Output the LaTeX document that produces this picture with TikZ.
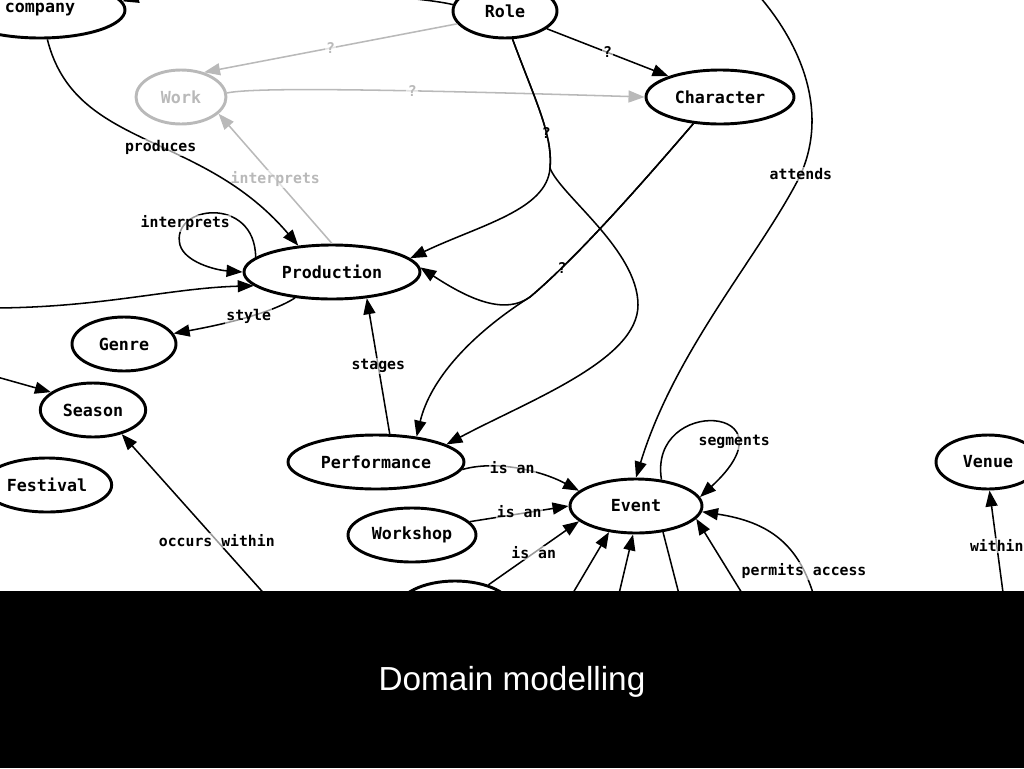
\documentclass[tikz,border=0pt]{standalone}
\usepackage{fontspec}
\setmainfont{DejaVu Sans Mono}
\setmonofont{DejaVu Sans Mono}
\newfontfamily\titlefont{Liberation Sans}
\usetikzlibrary{shapes.geometric,arrows.meta}
\definecolor{lgray}{RGB}{185,185,185}
\begin{document}
\begin{tikzpicture}[x=0.75pt,y=-0.75pt,
 ent/.style={ellipse, draw=black, line width=2.2pt, inner sep=0pt, minimum height=40.5pt, font=\fontsize{12.5}{14}\ttfamily\bfseries},
 gent/.style={ent, draw=lgray, text=lgray},
 edge/.style={draw=black, line width=1.15pt, -{Triangle[length=12pt,width=9pt]}},
 plainedge/.style={draw=black, line width=1.15pt},
 gedge/.style={draw=lgray, line width=1.15pt, -{Triangle[length=12pt,width=9pt,fill=lgray]}},
 lbl/.style={font=\fontsize{11.1}{13}\ttfamily\bfseries, fill=white, fill opacity=0.6, text opacity=1, inner sep=1pt},
 glbl/.style={lbl, text=lgray}]
\useasboundingbox (0,0) rectangle (1024,768);
\begin{scope}
\clip (0,0) rectangle (1024,768);
% entities
\node[ent, minimum width=127.5pt, minimum height=42pt] (company) at (40,10) {company};
\node[ent, minimum width=78pt] (Role) at (505,11) {Role};
\node[gent, minimum width=67.5pt] (Work) at (181,97) {Work};
\node[ent, minimum width=111pt] (Character) at (720,97) {Character};
\node[ent, minimum width=132pt] (Production) at (332,272) {Production};
\node[ent, minimum width=78pt] (Genre) at (124,344) {Genre};
\node[ent, minimum width=79pt] (Season) at (93,410) {Season};
\node[ent, minimum width=97pt] (Festival) at (47,485) {Festival};
\node[ent, minimum width=132pt] (Performance) at (376,462) {Performance};
\node[ent, minimum width=96pt] (Workshop) at (412,535) {Workshop};
\node[ent, minimum width=99pt] (Event) at (636,506) {Event};
\node[ent, minimum width=78pt] (Venue) at (988,462) {Venue};
\node[ent, minimum width=87pt, minimum height=43.5pt] (bottom) at (455,610) {};
% free ends
\coordinate (attsrc) at (752,-12);
\coordinate (lsrc1) at (-10,308);
\coordinate (lsrc2) at (-10,375);
\coordinate (b1) at (570,598);
\coordinate (b2) at (618,598);
\coordinate (b3) at (680,598);
\coordinate (b4) at (745,598);
\coordinate (b5) at (1004,600);
\coordinate (b6) at (268,598);
\coordinate (b7) at (815,600);
% grey edges
\draw[gedge] (Role.195) -- node[glbl] (q1) {?} (Work.47);
\draw[gedge] (Work.5) .. controls (250,88) and (350,88) .. node[glbl,pos=0.67] (q2) {?} (Character.west);
\draw[gedge] (Production.north) -- node[glbl] (l1) {interprets} (Work.-24);
% black edges
\draw[edge] (Role.173) .. controls (400,-8) and (180,-15) .. (company.6);
\draw[edge] (company) .. controls (75,150) and (200,130) .. node[lbl,pos=0.55] (l2) {produces} (Production.142);
\draw[edge] (Role.-23) -- node[lbl] (q3) {?} (Character.158);
\draw[edge] (Role.-75) .. controls (535,100) and (553,135) .. node[lbl,pos=0.66] (q4) {?} (550,168) .. controls (547,210) and (480,225) .. (Production.10);
\draw[edge] (Role.-75) .. controls (535,100) and (553,135) .. (550,168) .. controls (560,195) and (638,250) .. (638,305) .. controls (638,360) and (530,400) .. (Performance.14);
\draw[edge] (Character.225) .. controls (650,174) and (580,255) .. node[lbl,pos=0.8] (q5) {?} (530,297) .. controls (505,315) and (470,300) .. (Production.3);
\draw[edge] (Character.225) .. controls (650,174) and (580,255) .. (530,297) .. controls (470,335) and (430,380) .. (Performance.32);
\draw[edge] (attsrc) .. controls (800,40) and (830,110) .. node[lbl,pos=0.99] (l3) {attends} (800,176) .. controls (760,255) and (675,350) .. (Event.90);
\draw[edge] (Production.169) .. controls (255,195) and (170,205) .. node[lbl,pos=0.78] (l4) {interprets} (180,245) .. controls (185,262) and (215,270) .. (Production.west);
\draw[edge] (lsrc1) .. controls (100,308) and (170,288) .. (Production.190);
\draw[edge] (Production.215) .. controls (270,314) and (220,325) .. node[lbl,pos=0.45] (l5) {style} (Genre.12);
\draw[edge] (lsrc2) -- (Season.157);
\draw[edge] (Performance.64) -- node[lbl] (l6) {stages} (Production.-37);
\draw[edge] (Performance.-5) .. controls (495,460) and (540,470) .. node[lbl,pos=0.45] (l7) {is an} (Event.165);
\draw[edge] (Workshop.13) -- node[lbl,yshift=2pt] (l8) {is an} (Event.west);
\draw[edge] (bottom.37) -- node[lbl] (l9) {is an} (Event.195);
\draw[edge] (b1) -- (Event.224);
\draw[edge] (b2) -- (Event.264);
\draw[plainedge] (Event.-44) -- (b3);
\draw[edge] (b4) -- (Event.-12);
\draw[edge] (b7) .. controls (800,545) and (770,522) .. node[lbl,pos=0.2] (l10) {permits access} (Event.-5);
\draw[edge] (Event.46) .. controls (648,395) and (800,405) .. node[lbl,pos=0.74] (l11) {segments} (Event.8);
\draw[edge] (b5) -- node[lbl] (l12) {within} (Venue.-87);
\draw[edge] (b6) -- node[lbl,pos=0.35] (l13) {occurs within} (Season.-40);
\end{scope}
% title band
\fill[black] (0,591) rectangle (1024,768);
\node[text=white, font=\titlefont\fontsize{25}{30}\selectfont, anchor=base, inner sep=0pt] (title) at (512,690) {Domain modelling};
\end{tikzpicture}
\end{document}
